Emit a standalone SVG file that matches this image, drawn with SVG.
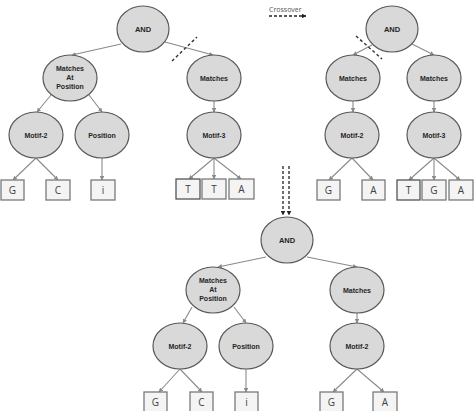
<svg xmlns="http://www.w3.org/2000/svg" width="474" height="411" viewBox="0 0 474 411">
<style>
.n ellipse{fill:#d9d9d9;stroke:#595959;stroke-width:1.2}
.n text{font-family:"Liberation Sans",Arial,sans-serif;font-weight:bold;font-size:7px;fill:#262626;text-anchor:middle}
.l rect{fill:#f4f4f4;stroke:#7a7a7a;stroke-width:1.3}
.l text{font-family:"Open Sans","Liberation Sans",sans-serif;font-size:10px;fill:#404040;text-anchor:middle}
.e line{stroke:#8a8a8a;stroke-width:1.1;marker-end:url(#ah)}
.e line.cut{stroke:#333;stroke-width:1.4;stroke-dasharray:3 2.5;marker-end:none}
.e line.dash{stroke:#222;stroke-width:1.3;stroke-dasharray:3 2;marker-end:url(#dh)}
.lbl{font-family:"Open Sans","Liberation Sans",sans-serif;font-size:7px;fill:#555}
</style>
<defs>
<marker id="ah" viewBox="0 0 10 10" refX="9" refY="5" markerWidth="4" markerHeight="4" orient="auto"><path d="M0,0L10,5L0,10z" fill="#8a8a8a"/></marker>
<marker id="dh" viewBox="0 0 10 10" refX="9" refY="5" markerWidth="3.5" markerHeight="3.5" orient="auto"><path d="M0,0L10,5L0,10z" fill="#222"/></marker>
</defs>

<g id="connectors" class="e">
<!-- top-left tree -->
<line x1="121" y1="44" x2="72" y2="55"/>
<line x1="165" y1="42" x2="213" y2="55"/>
<line x1="51" y1="95" x2="37" y2="112"/>
<line x1="89" y1="95" x2="102" y2="112"/>
<line x1="214" y1="101" x2="214" y2="112"/>
<line x1="36" y1="158" x2="13" y2="180"/>
<line x1="36" y1="158" x2="58" y2="180"/>
<line x1="102" y1="158" x2="102" y2="180"/>
<line x1="214" y1="158" x2="189" y2="179"/>
<line x1="214" y1="158" x2="214" y2="179"/>
<line x1="214" y1="158" x2="241" y2="179"/>
<!-- top-right tree -->
<line x1="372" y1="45" x2="353" y2="55"/>
<line x1="412" y1="44" x2="434" y2="55"/>
<line x1="353" y1="101" x2="353" y2="112"/>
<line x1="434" y1="101" x2="434" y2="112"/>
<line x1="352" y1="158" x2="329" y2="180"/>
<line x1="352" y1="158" x2="373" y2="180"/>
<line x1="434" y1="158" x2="409" y2="180"/>
<line x1="434" y1="158" x2="434" y2="180"/>
<line x1="434" y1="158" x2="460" y2="180"/>
<!-- bottom tree -->
<line x1="266" y1="257" x2="218" y2="267"/>
<line x1="307" y1="257" x2="357" y2="267"/>
<line x1="192" y1="307" x2="183" y2="323"/>
<line x1="234" y1="307" x2="246" y2="323"/>
<line x1="357" y1="313" x2="357" y2="323"/>
<line x1="180" y1="369" x2="159" y2="392"/>
<line x1="180" y1="369" x2="202" y2="392"/>
<line x1="246" y1="369" x2="246" y2="392"/>
<line x1="357" y1="369" x2="333" y2="392"/>
<line x1="357" y1="369" x2="384" y2="392"/>
<!-- cuts and crossover arrows -->
<line class="cut" x1="172" y1="61" x2="197" y2="37"/>
<line class="cut" x1="356" y1="36" x2="382" y2="59"/>
<line class="dash" x1="269" y1="16" x2="306" y2="16"/>
<line class="dash" x1="283" y1="166" x2="283" y2="215"/>
<line class="dash" x1="289" y1="166" x2="289" y2="215"/>
</g>
<text class="lbl" x="269" y="12">Crossover</text>

<!-- top-left tree -->
<g id="tl-and" class="n"><ellipse cx="143" cy="29" rx="26" ry="23"/><text x="143" y="31.5" style="font-size:7.5px">AND</text></g>
<g id="tl-map" class="n"><ellipse cx="70" cy="78" rx="27" ry="23"/><text x="70" y="71">Matches</text><text x="70" y="80">At</text><text x="70" y="89">Position</text></g>
<g id="tl-matches" class="n"><ellipse cx="214" cy="78" rx="27" ry="23"/><text x="214" y="80.5">Matches</text></g>
<g id="tl-motif2" class="n"><ellipse cx="36" cy="135" rx="27" ry="23"/><text x="36" y="137.5">Motif-2</text></g>
<g id="tl-position" class="n"><ellipse cx="102" cy="135" rx="27" ry="23"/><text x="102" y="137.5">Position</text></g>
<g id="tl-motif3" class="n"><ellipse cx="214" cy="135" rx="27" ry="23"/><text x="214" y="137.5">Motif-3</text></g>
<g id="tl-g" class="l"><rect x="1" y="180" width="23" height="20"/><text x="12.5" y="194">G</text></g>
<g id="tl-c" class="l"><rect x="46" y="180" width="24" height="20"/><text x="58" y="194">C</text></g>
<g id="tl-i" class="l"><rect x="91" y="180" width="24" height="20"/><text x="103" y="194">i</text></g>
<g id="tl-t1" class="l"><rect x="176" y="179" width="24" height="20" style="stroke:#555"/><text x="188" y="193">T</text></g>
<g id="tl-t2" class="l"><rect x="202" y="179" width="24" height="20"/><text x="214" y="193">T</text></g>
<g id="tl-a" class="l"><rect x="229" y="179" width="25" height="20"/><text x="241.5" y="193">A</text></g>

<!-- top-right tree -->
<g id="tr-and" class="n"><ellipse cx="392" cy="29" rx="26" ry="23"/><text x="392" y="31.5" style="font-size:7.5px">AND</text></g>
<g id="tr-matches1" class="n"><ellipse cx="353" cy="78" rx="27" ry="23"/><text x="353" y="80.5">Matches</text></g>
<g id="tr-matches2" class="n"><ellipse cx="434" cy="78" rx="27" ry="23"/><text x="434" y="80.5">Matches</text></g>
<g id="tr-motif2" class="n"><ellipse cx="352" cy="135" rx="27" ry="23"/><text x="352" y="137.5">Motif-2</text></g>
<g id="tr-motif3" class="n"><ellipse cx="434" cy="135" rx="27" ry="23"/><text x="434" y="137.5">Motif-3</text></g>
<g id="tr-g" class="l"><rect x="317" y="180" width="23" height="20"/><text x="328.5" y="194">G</text></g>
<g id="tr-a" class="l"><rect x="362" y="180" width="23" height="20"/><text x="373.5" y="194">A</text></g>
<g id="tr-t" class="l"><rect x="397" y="180" width="23" height="20" style="stroke:#555"/><text x="408.5" y="194">T</text></g>
<g id="tr-g2" class="l"><rect x="422" y="180" width="24" height="20"/><text x="434" y="194">G</text></g>
<g id="tr-a2" class="l"><rect x="449" y="180" width="24" height="20"/><text x="461" y="194">A</text></g>

<!-- bottom tree -->
<g id="b-and" class="n"><ellipse cx="287" cy="240" rx="26" ry="23"/><text x="287" y="242.5" style="font-size:7.5px">AND</text></g>
<g id="b-map" class="n"><ellipse cx="213" cy="290" rx="27" ry="23"/><text x="213" y="283">Matches</text><text x="213" y="292">At</text><text x="213" y="301">Position</text></g>
<g id="b-matches" class="n"><ellipse cx="357" cy="290" rx="27" ry="23"/><text x="357" y="292.5">Matches</text></g>
<g id="b-motif2a" class="n"><ellipse cx="180" cy="346" rx="27" ry="23"/><text x="180" y="348.5">Motif-2</text></g>
<g id="b-position" class="n"><ellipse cx="246" cy="346" rx="27" ry="23"/><text x="246" y="348.5">Position</text></g>
<g id="b-motif2b" class="n"><ellipse cx="357" cy="346" rx="27" ry="23"/><text x="357" y="348.5">Motif-2</text></g>
<g id="b-g" class="l"><rect x="144" y="392" width="23" height="20"/><text x="155.5" y="406">G</text></g>
<g id="b-c" class="l"><rect x="190" y="392" width="23" height="20"/><text x="201.5" y="406">C</text></g>
<g id="b-i" class="l"><rect x="235" y="392" width="23" height="20"/><text x="246.5" y="406">i</text></g>
<g id="b-g2" class="l"><rect x="320" y="392" width="23" height="20"/><text x="331.5" y="406">G</text></g>
<g id="b-a" class="l"><rect x="373" y="392" width="24" height="20"/><text x="385" y="406">A</text></g>
</svg>
